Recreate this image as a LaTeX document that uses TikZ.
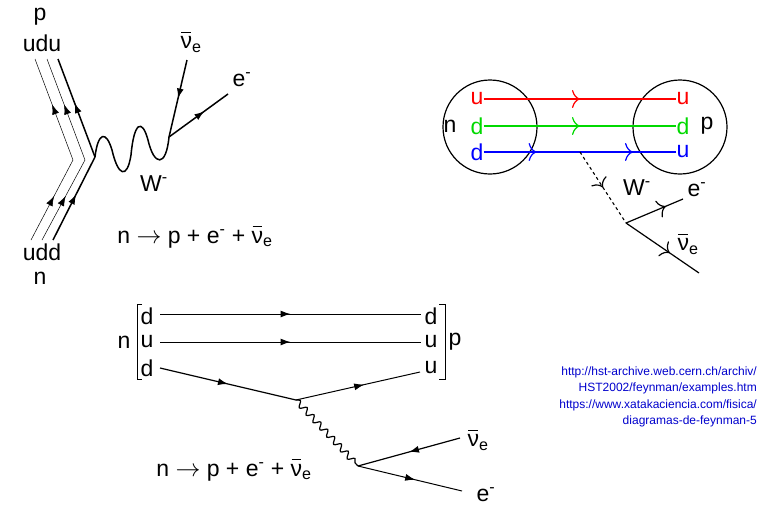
\documentclass[tikz,border=0pt]{standalone}
\usepackage{fontspec}
\setmainfont{Liberation Sans}
\usetikzlibrary{decorations.markings,decorations.pathmorphing,arrows.meta}
\newcommand{\lowsub}[1]{\textsubscript{#1}}
\newcommand{\nubar}{\leavevmode\rlap{\kern0.04em\raisebox{0.68em}{\rule{0.42em}{0.06em}}}ν}
\begin{document}
\begin{tikzpicture}[x=1pt,y=-1pt,
  lbl/.style={font=\fontsize{23}{25}\selectfont,inner sep=0pt},
  midarr/.style={postaction={decorate},decoration={markings,mark=at position #1 with {\arrow{Latex[length=10pt,width=7pt]}}}},
  openarr/.style={postaction={decorate},decoration={markings,mark=at position #1 with {\arrow[line width=1.2pt]{To[length=8pt,width=18pt]}}}},
  wig/.style={decorate,decoration={snake,amplitude=#1,segment length=10pt}},
  thin/.style={line width=0.5pt},
  thick2/.style={line width=1.5pt}]
\useasboundingbox (0,0) rectangle (758,517);
% ---------- top left
\coordinate (a1) at (31,240); \coordinate (b1) at (73,160); \coordinate (c1) at (35,59);
\coordinate (a2) at (42,240); \coordinate (b2) at (85,160); \coordinate (c2) at (47,59);
\coordinate (a3) at (53,240); \coordinate (b3) at (95,157); \coordinate (c3) at (58,59);
\draw[thin,midarr=0.55] (a1) -- (b1);
\draw[thin,midarr=0.55] (b1) -- (c1);
\draw[thin,midarr=0.55] (a2) -- (b2);
\draw[thin,midarr=0.55] (b2) -- (c2);
\draw[thick2,midarr=0.55] (a3) -- (b3);
\draw[thick2,midarr=0.55] (b3) -- (c3);
\coordinate (v1) at (169,137);
\draw[thick2] (b3) .. controls (98,132) and (106,130) .. (112,150) .. controls (118,176) and (127,180) .. (131,155) .. controls (134,122) and (142,118) .. (148,140) .. controls (154,166) and (166,168) .. (v1);
\coordinate (nb1) at (187,60); \coordinate (e1) at (228,94);
\draw[thick2,midarr=0.5] (nb1) -- (v1);
\draw[thick2,midarr=0.6] (v1) -- (e1);
\node[lbl] (p1) at (40,17) {p};
\node[lbl] (udu) at (42,43) {udu};
\node[lbl] (nu1) at (191,42) {\nubar\lowsub{e}};
\node[lbl] (el1) at (242,80) {e\textsuperscript{-}};
\node[lbl] (w1) at (154,184) {W\textsuperscript{-}};
\node[lbl] (eq1) at (195,237) {n $\rightarrow$ p + e\textsuperscript{-} + \nubar\lowsub{e}};
\node[lbl] (udd) at (42,252) {udd};
\node[lbl] (n1) at (40,278) {n};
% ---------- top right
\node[draw,circle,minimum size=94pt,line width=1.2pt] (cn) at (490,127) {};
\node[draw,circle,minimum size=94pt,line width=1.2pt] (cp) at (680,127) {};
\node[lbl,red] (ur) at (477,99) {u};
\node[lbl,green!85!black] (dg) at (477,126) {d};
\node[lbl,blue] (db) at (477,152) {d};
\node[lbl,red] (ur2) at (683,99) {u};
\node[lbl,green!85!black] (dg2) at (683,126) {d};
\node[lbl,blue] (ub2) at (683,152) {u};
\node[lbl] (nn) at (450,126) {n};
\node[lbl] (pp) at (707,126) {p};
\draw[red,line width=1.2pt,openarr=0.5] (ur.east) -- (ur2.west);
\draw[green!85!black,line width=1.2pt,openarr=0.5] (dg.east) -- (dg2.west);
\coordinate (vb) at (580,152);
\draw[blue,line width=1.2pt,openarr=0.55] (db.east) -- (vb);
\draw[blue,line width=1.2pt,openarr=0.55] (vb) -- (ub2.west);
\coordinate (v2) at (626,223);
\draw[dashed,line width=1.1pt,openarr=0.5] (vb) -- (v2);
\coordinate (e2) at (683,199); \coordinate (n2) at (699,273);
\draw[line width=1.2pt,openarr=0.7] (v2) -- (e2);
\draw[line width=1.2pt,openarr=0.6] (v2) -- (n2);
\node[lbl] (w2) at (637,188) {W\textsuperscript{-}};
\node[lbl] (el2) at (697,190) {e\textsuperscript{-}};
\node[lbl] (nu2) at (688,244) {\nubar\lowsub{e}};
% ---------- bottom
\node[lbl] (bd1) at (147,316) {d};
\node[lbl] (bu1) at (147,342) {u};
\node[lbl] (bd2) at (147,368) {d};
\node[lbl] (bd3) at (431,316) {d};
\node[lbl] (bu2) at (431,342) {u};
\node[lbl] (bu3) at (431,368) {u};
\node[lbl] (bn) at (124,342) {n};
\node[lbl] (bp) at (455,342) {p};
\draw[line width=1pt] (142,304) -- (137,304) -- (137,379) -- (142,379);
\draw[line width=1pt] (439,304) -- (445,304) -- (445,379) -- (439,379);
\draw[line width=1pt,midarr=0.5] (160,314) -- (421,314);
\draw[line width=1pt,midarr=0.5] (160,342) -- (421,342);
\coordinate (v3) at (296,400);
\coordinate (v4) at (358,466);
\draw[line width=1.2pt,midarr=0.5] (160,368) -- (v3);
\draw[line width=1pt,midarr=0.55] (v3) -- (420,372);
\draw[line width=1.2pt,wig=3pt] (v3) -- (v4);
\draw[line width=1.2pt,midarr=0.5] (460,438) -- (v4);
\draw[line width=1pt,midarr=0.55] (v4) -- (462,491);
\node[lbl] (nu3) at (478,440) {\nubar\lowsub{e}};
\node[lbl] (el3) at (486,495) {e\textsuperscript{-}};
\node[lbl] (eq3) at (234,470) {n $\rightarrow$ p + e\textsuperscript{-} + \nubar\lowsub{e}};
\node[font=\fontsize{12}{16.5}\selectfont,text=blue!80!black,align=right,anchor=east,inner sep=0pt] (ref) at (757,397) {http://hst-archive.web.cern.ch/archiv/\\HST2002/feynman/examples.htm\\https://www.xatakaciencia.com/fisica/\\diagramas-de-feynman-5};
\end{tikzpicture}
\end{document}
